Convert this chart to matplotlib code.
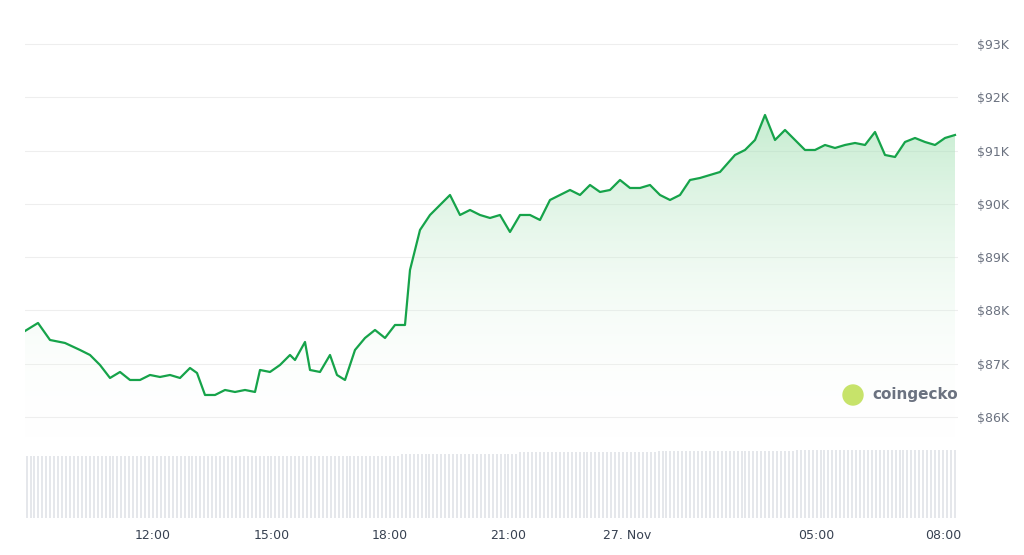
import numpy as np
import matplotlib
matplotlib.use("Agg")
import matplotlib.pyplot as plt
from matplotlib.patches import Polygon, Ellipse
from matplotlib.colors import LinearSegmentedColormap

# price samples: pixel-read positions from the reference
px_x = [25,38,50,65,80,90,100,110,120,130,140,150,160,170,180,190,197,205,215,225,235,245,255,260,270,280,290,295,305,310,320,330,337,345,355,365,375,385,395,405,410,420,430,440,450,460,470,480,490,500,510,520,530,540,550,560,570,580,590,600,610,620,630,640,650,660,670,680,690,700,710,720,735,745,755,765,775,785,795,805,815,825,835,845,855,865,875,885,895,905,915,925,935,945,955]
px_y = [331,323,340,343,350,355,365,378,372,380,380,375,377,375,378,368,373,395,395,390,392,390,392,370,372,365,355,360,342,370,372,355,375,380,350,338,330,338,325,325,270,230,215,205,195,215,210,215,218,215,232,215,215,220,200,195,190,195,185,192,190,180,188,188,185,195,200,195,180,178,175,172,155,150,140,115,140,130,140,150,150,145,148,145,143,145,132,155,157,142,138,142,145,138,135]
hours = [8.76 + (x - 25) / 39.5 for x in px_x]
prices = [93 - (y - 44) / 53.3 for y in px_y]

vol_hours = list(np.arange(8.8, 32.4, 0.1))
n = len(vol_hours)
vol_vals = [60]*95 + [61]*30 + [63]*35 + [64]*35 + [65]*(n-195)

tick_pos = [12, 15, 18, 21, 24, 28.8, 32]
tick_lab = ["12:00", "15:00", "18:00", "21:00", "27. Nov", "05:00", "08:00"]
ytick = [86, 87, 88, 89, 90, 91, 92, 93]

W, H = 1024, 555
fig = plt.figure(figsize=(W/100, H/100), dpi=100)
xl = (8.76, 8.76 + 933/39.5)
ax = fig.add_axes([25/W, 1-440/H, 933/W, 420/H])
ax.set_xlim(*xl)
ax.set_ylim(85.57, 93.45)
for v in ytick:
    ax.axhline(v, color="#eeeeee", lw=0.8, zorder=0)
ax.plot(hours, prices, color="#16a34a", lw=1.6, zorder=3)
grad = np.linspace(0, 1, 256).reshape(-1, 1)
cm = LinearSegmentedColormap.from_list("g", [(1, 1, 1, 0), (0.6, 0.87, 0.67, 0.6)])
im = ax.imshow(grad, aspect="auto", cmap=cm, origin="lower",
               extent=[xl[0], xl[1], 85.57, 91.9], zorder=1)
poly = Polygon(list(zip(hours, prices)) + [(hours[-1], 85.57), (hours[0], 85.57)],
               closed=True, transform=ax.transData, facecolor="none", edgecolor="none")
ax.add_patch(poly)
im.set_clip_path(poly)
for s in ax.spines.values():
    s.set_visible(False)
ax.set_xticks([])
ax.yaxis.tick_right()
ax.set_yticks(ytick)
ax.set_yticklabels([f"${v}K" for v in ytick], color="#6b7280", fontsize=9)
ax.tick_params(axis="y", length=0, pad=14)

fig.patches.append(Ellipse((853/W, 1-395/H), 20/W, 20/H, transform=fig.transFigure,
                           color="#c7e36a", zorder=5))
fig.text(872/W, 1-395/H, "coingecko", fontsize=11, fontweight="bold",
         color="#6b7280", va="center")

vax = fig.add_axes([25/W, 1-518/H, 933/W, 75/H])
vax.bar(vol_hours, vol_vals, width=0.05, color="#e5e7eb")
vax.set_xlim(*xl)
vax.set_ylim(0, 72)
for s in vax.spines.values():
    s.set_visible(False)
vax.set_yticks([])
vax.set_xticks(tick_pos)
vax.set_xticklabels(tick_lab, fontsize=9, color="#374151")
vax.tick_params(axis="x", length=0, pad=8)
fig.savefig("out.png", dpi=100)
